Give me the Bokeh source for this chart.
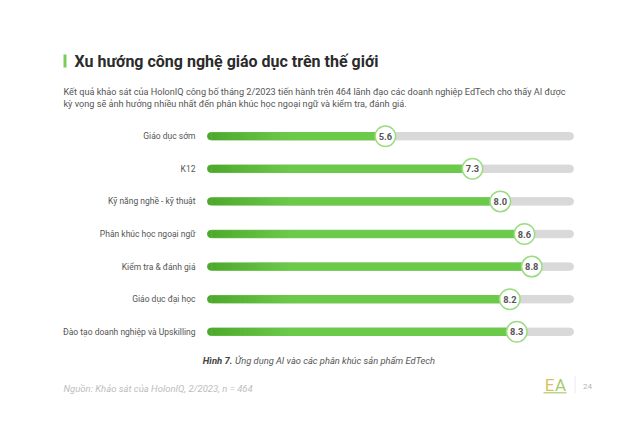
from bokeh.embed import file_html
from bokeh.resources import INLINE
from bokeh.plotting import figure
from bokeh.core.properties import value
from bokeh.models import Label, BoxAnnotation, Range1d, ColumnDataSource

title = "Xu hướng công nghệ giáo dục trên thế giới"
intro_1 = "Kết quả khảo sát của HolonIQ công bố tháng 2/2023 tiến hành trên 464 lãnh đạo các doanh nghiệp EdTech cho thấy AI được"
intro_2 = "kỳ vọng sẽ ảnh hưởng nhiều nhất đến phân khúc học ngoại ngữ và kiểm tra, đánh giá."
categories = ["Giáo dục sớm", "K12", "Kỹ năng nghề - kỹ thuật", "Phân khúc học ngoại ngữ",
              "Kiểm tra & đánh giá", "Giáo dục đại học", "Đào tạo doanh nghiệp và Upskilling"]
score_labels = ["5.6", "7.3", "8.0", "8.6", "8.8", "8.2", "8.3"]
marker_pos = [4.86, 7.24, 8.0, 8.66, 8.86, 8.26, 8.45]
track_max = 10
caption_bold = "Hình 7."
caption_rest = "Ứng dụng AI vào các phân khúc sản phẩm EdTech"
source_note = "Nguồn: Khảo sát của HolonIQ, 2/2023, n = 464"
page_no = "24"

FONT = "Roboto"
W, H = 630, 417
TRACK_X0, TRACK_X1 = 207, 573
ROW0_Y, ROW_H = 135.7, 32.6
px = (TRACK_X1 - TRACK_X0) / track_max
rows = list(range(len(categories)))

p = figure(width=W, height=H, output_backend="svg", toolbar_location=None,
           x_range=Range1d(-TRACK_X0 / px, (W - TRACK_X0) / px),
           y_range=Range1d((H - ROW0_Y) / ROW_H, -ROW0_Y / ROW_H),
           min_border=0, x_axis_location=None, y_axis_location=None)
p.outline_line_color = None
p.background_fill_color = None
p.border_fill_color = None
p.grid.visible = False

BAR_H = 7.4 / ROW_H
r = 4

p.hbar(y=rows, left=0, right=track_max, height=BAR_H, color="#d9d9d9", border_radius=r)

# green bars: a left-to-right shade from dark to light, then flat
def mix(t):
    a, b = (0x4f, 0xa8, 0x2e), (0x6c, 0xca, 0x4b)
    return "#%02x%02x%02x" % tuple(int(x + (y - x) * t) for x, y in zip(a, b))

p.hbar(y=rows, left=0, right=marker_pos, height=BAR_H, color="#6cca4b", border_radius=r)
BANDS = 20
SPAN = 2.2
for i in range(BANDS):
    lo, hi = SPAN * i / BANDS, SPAN * (i + 1) / BANDS
    if i == 0:
        p.hbar(y=rows, left=lo, right=hi, height=BAR_H, color=mix(0), line_color=None,
               border_radius=(r, 0, 0, r))
    else:
        p.hbar(y=rows, left=lo, right=hi + 0.02, height=BAR_H, color=mix(i / BANDS), line_color=None)

src = ColumnDataSource(dict(x=marker_pos, y=rows, t=score_labels))
p.scatter("x", "y", source=src, size=20.5, fill_color="white", line_color="#9ddc84", line_width=1.5)
p.text("x", "y", text="t", source=src, text_align="center", text_baseline="middle",
       text_font=value(FONT), text_font_size="9.3px", text_font_style="bold", text_color="#555555")
p.text(x=[0] * len(rows), y=rows, text=categories, x_offset=-12, text_align="right", text_baseline="middle",
       text_font=value(FONT), text_font_size="8.5px", text_color="#555555")


def txt(text, x, y, size, color, style="normal", align="left", font=FONT):
    p.add_layout(Label(x=x, y=y, x_units="canvas", y_units="canvas", text=text,
                       text_font=font, text_font_size=size, text_color=color, text_font_style=style,
                       text_align=align, text_baseline="middle"))


def box(x0, x1, y0, y1, color):
    p.add_layout(BoxAnnotation(left=x0, right=x1, top=y0, bottom=y1,
                               left_units="canvas", right_units="canvas", top_units="canvas", bottom_units="canvas",
                               fill_color=color, fill_alpha=1, line_color=None))


box(63, 66, 54, 67, "#7ccb5b")
txt(title, 74, 61, "16px", "#2b2b2b", "bold")
txt(intro_1, 63, 91, "9.15px", "#555555")
txt(intro_2, 63, 103, "9.15px", "#555555")
txt(caption_bold, 232, 360, "9.5px", "#444444", "bold italic", "right")
txt(caption_rest, 234.5, 360, "9.3px", "#555555", "italic")
txt(source_note, 63, 388, "9.5px", "#bdbdbd", "italic")
txt("E", 549, 384, "17px", "#d8c25f", "normal", "center")
txt("A", 560, 384, "17px", "#a8c96a", "normal", "center")
box(543, 566, 391.5, 393, "#b5d98f")
box(574, 575, 375, 393, "#ececec")
txt(page_no, 587, 386, "8px", "#b5b5b5", "normal", "center")

open("out.html", "w").write(file_html(p, INLINE))
